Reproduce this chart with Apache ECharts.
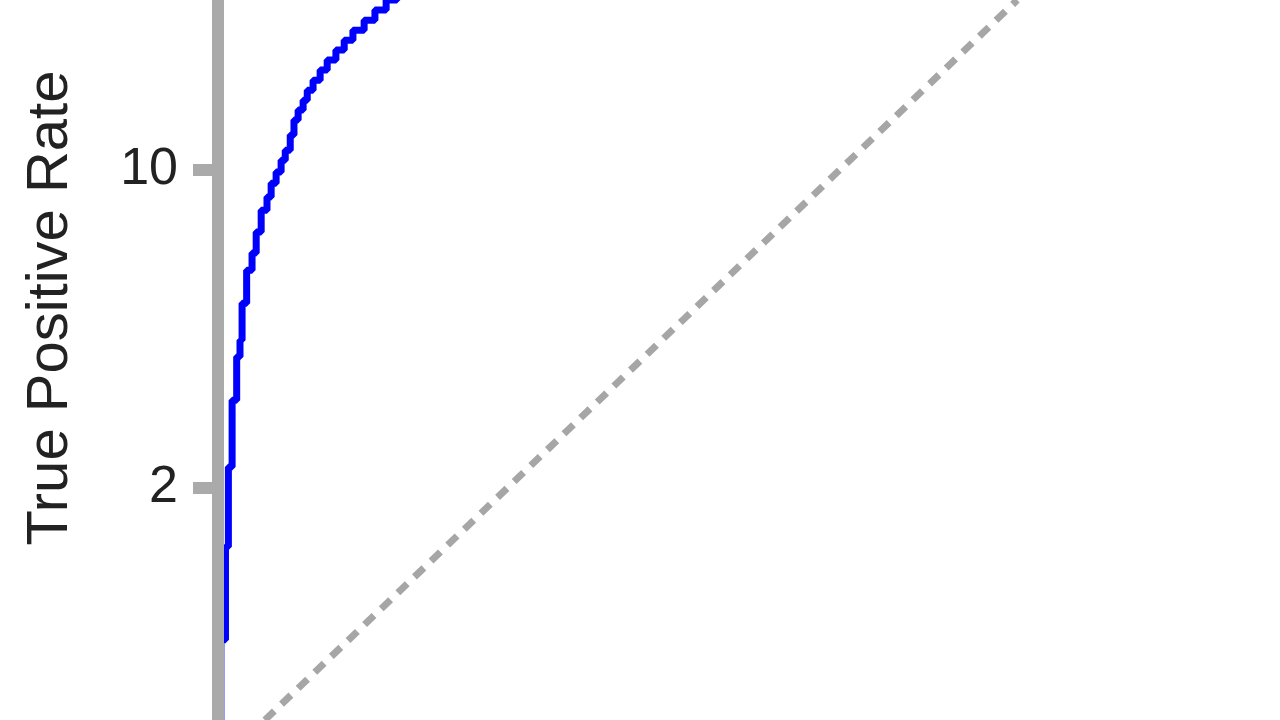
<!DOCTYPE html>
<html>
<head>
<meta charset="utf-8">
<title>ROC curve</title>
<script src="https://cdn.jsdelivr.net/npm/echarts@6/dist/echarts.min.js"></script>
<style>
  html, body { margin: 0; padding: 0; background: #fff; }
  #roc-chart { width: 1280px; height: 720px; }
</style>
</head>
<body>
<div id="roc-chart"></div>
<script>
// values
var rocFpr = [-4.90, -4.79, -4.72, -4.63, -4.52, -4.44, -4.39, -4.28, -4.15, -4.05,
              -3.93, -3.79, -3.69, -3.57, -3.45, -3.35, -3.23, -3.14, -3.04, -2.92,
              -2.82, -2.68, -2.51, -2.34, -2.13, -1.93, -1.72, -1.45, -1.19, -0.92,
              -0.66, -0.34, 0.02];
var rocTpr = [-4.84, -1.82, 0.52, 2.53, 4.21, 5.30, 5.72, 6.65, 7.48, 7.91,
              8.44, 8.99, 9.32, 9.67, 9.95, 10.25, 10.50, 10.88, 11.26, 11.51,
              11.76, 12.01, 12.26, 12.52, 12.77, 13.02, 13.27, 13.52, 13.77, 14.03,
              14.28, 14.53, 14.78];
var chanceX = [-3.84, 14.28];
var chanceY = [-3.84, 14.28];
var yTickValues = [2, 10];
var yTitle = 'True Positive Rate';

var configureChart = function() {
    let chart = echarts.init(document.getElementById('roc-chart'));

    function zipPoints(xs, ys) {
        let pts = [];
        for (let i = 0; i < xs.length; i++) {
            pts.push([xs[i], ys[i]]);
        }
        return pts;
    }

    let options = {
        animation: false,
        grid: {
            left: 218,
            right: 0,
            top: 0,
            bottom: 0,
            containLabel: false
        },
        xAxis: {
            type: 'value',
            min: -4.97,
            max: 20.61,
            show: false
        },
        yAxis: {
            type: 'value',
            min: -3.84,
            max: 14.28,
            z: 5,
            name: yTitle,
            nameLocation: 'middle',
            nameRotate: 90,
            nameGap: 138,
            nameTextStyle: {
                fontFamily: 'Liberation Sans, Arial, sans-serif',
                fontSize: 58,
                color: '#222',
                padding: [0, 0, 0, 104]
            },
            axisLine: {
                show: true,
                onZero: false,
                lineStyle: { color: '#aaaaaa', width: 12 }
            },
            axisTick: {
                show: true,
                customValues: yTickValues,
                length: 25,
                lineStyle: { color: '#aaaaaa', width: 12 }
            },
            axisLabel: {
                customValues: yTickValues,
                margin: 40,
                fontFamily: 'Liberation Sans, Arial, sans-serif',
                fontSize: 52,
                color: '#222'
            },
            splitLine: { show: false }
        },
        series: [
            {
                type: 'line',
                data: zipPoints(chanceX, chanceY),
                showSymbol: false,
                lineStyle: {
                    color: '#a6a6a6',
                    width: 7,
                    type: [13, 10]
                },
                z: 1
            },
            {
                type: 'line',
                data: zipPoints(rocFpr, rocTpr),
                step: 'start',
                showSymbol: false,
                lineStyle: {
                    color: '#0000ff',
                    width: 7
                },
                z: 2
            }
        ]
    };

    chart.setOption(options);
};

configureChart();
</script>
</body>
</html>
